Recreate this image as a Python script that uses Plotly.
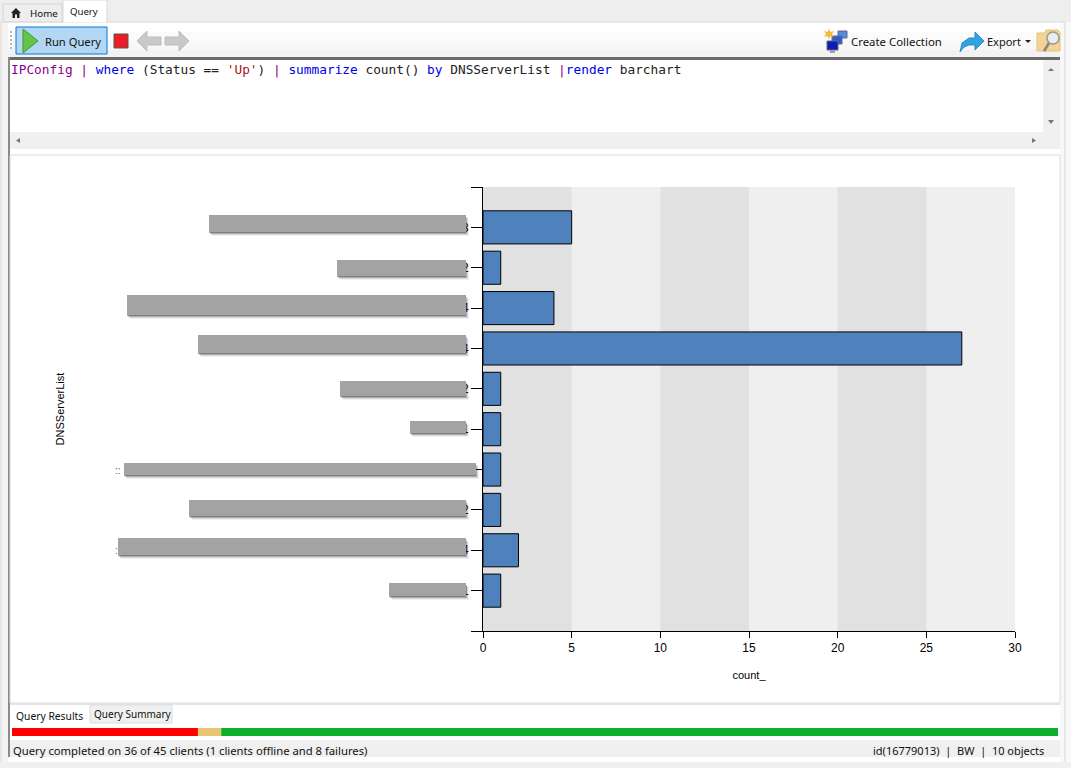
import plotly.graph_objects as go

# ---- chart data ----
dns_labels = ["3", "2", "4", "4", "2", "1", "", "2", "4", "1"]   # visible ends of the masked labels
dns_counts = [5, 1, 4, 27, 1, 1, 1, 1, 2, 1]
x_ticks = [0, 5, 10, 15, 20, 25, 30]
dark_bands = [(0, 5), (10, 15), (20, 25)]
client_counts = [8, 1, 36]          # failures, offline, completed
client_colors = ["#ff0000", "#e8c574", "#0db02b"]

# masked label boxes: left, top, right, bottom
mask_boxes = [
    (209, 215, 466, 232), (337, 260, 466, 276), (127, 295, 466, 315),
    (198, 335, 466, 353), (340, 381, 466, 396), (410, 421, 466, 433),
    (124, 463, 476, 475), (189, 500, 466, 516), (118, 538, 466, 555),
    (389, 583, 466, 596),
]

# ---- plot geometry ----
L, R, T, B = 483, 1015, 187, 631
W, H = 1071, 768
def fx(px): return (px - L) / (R - L)
def fy(py): return (B - py) / (B - T)

shapes, notes = [], []

def rect(x0, y0, x1, y1, fill=None, line=None, layer="below", lw=1):
    shapes.append(dict(type="rect", xref="paper", yref="paper",
                       x0=fx(x0), x1=fx(x1), y0=fy(y0), y1=fy(y1),
                       fillcolor=fill if fill else "rgba(0,0,0,0)",
                       line=dict(color=line if line else "rgba(0,0,0,0)", width=lw if line else 0),
                       layer=layer))

def poly(points, fill, line=None, layer="below"):
    d = "M" + " L".join(f"{fx(x):.5f} {fy(y):.5f}" for x, y in points) + " Z"
    shapes.append(dict(type="path", xref="paper", yref="paper", path=d, fillcolor=fill,
                       line=dict(color=line if line else "rgba(0,0,0,0)", width=1 if line else 0),
                       layer=layer))

def text(x, y, s, size=12, color="#111111", family="Noto Sans", anchor="left"):
    # annotations carry about 2px of padding
    dx = -2 if anchor == "left" else 2
    notes.append(dict(xref="paper", yref="paper", x=fx(x + dx), y=fy(y), text=s, showarrow=False,
                      xanchor=anchor, yanchor="middle", align=anchor,
                      font=dict(size=size, color=color, family=family)))

# ---- window chrome ----
rect(0, 0, W, 22, "#eeeeee")
rect(0, 22, 8, H, "#f4f4f4")
rect(1060, 22, W, H, "#f8f8f8")
rect(1, 22, 1065, 765, None, "#d9d9d9")
rect(0, 762, W, H, "#f0f0f0")
# tabs
rect(3, 4, 62, 22, "#eeeeee", "#d5d5d5")
rect(63, 0, 107, 23, "#ffffff", "#d9d9d9")
poly([(11, 13), (16, 8), (21, 13), (19.5, 13), (19.5, 18), (17, 18), (17, 14.5), (15, 14.5), (15, 18), (12.5, 18), (12.5, 13)], "#222222")
text(30, 13, "Home", 9.8)
text(70, 11, "Query", 9.6)
# toolbar
for i, c in enumerate(["#ffffff", "#fbfbfb", "#f7f7f7", "#f2f2f2"]):
    rect(8, 23 + i * 9, 1060, 32 + i * 9, c)
for yy in (31, 35, 39, 43, 47):
    rect(10, yy, 12, yy + 2, "#b8b8b8")
rect(16, 27, 107, 54, "#b3d7f3", "#0078d7")
poly([(23, 29), (38, 41), (23, 53)], "#62c54a", "#3c9a32")
text(45, 41, "Run Query", 11.2)
rect(114, 34, 128, 48, "#ee1c25", "#555555")
poly([(137, 41), (147, 31), (147, 37), (161, 37), (161, 45), (147, 45), (147, 51)], "#c9c9c9", "#bdbdbd")
poly([(189, 41), (179, 31), (179, 37), (165, 37), (165, 45), (179, 45), (179, 51)], "#c9c9c9", "#bdbdbd")
# create collection icon
rect(838, 31, 847, 38, "#4f8fe0", "#66668a")
rect(832, 36, 842, 44, "#2a5fd0", "#66668a")
rect(827, 41, 838, 50, "#0b1fb0", "#66668a")
rect(830, 50, 835, 53, "#a0a0a0")
poly([(829, 29), (830.5, 32), (834, 31), (832, 34), (834, 37), (830.5, 36), (829, 39), (827.5, 36), (824, 37), (826, 34), (824, 31), (827.5, 32)], "#f5b93b")
text(851, 41, "Create Collection", 11.4)
# export arrow
poly([(960, 52), (962, 43), (969, 38), (975, 38), (975, 32), (984, 41), (975, 50), (975, 45), (969, 45), (964, 47)], "#2fa4e0", "#2a8fc9")
text(987, 41, "Export", 11)
poly([(1025, 40), (1031, 40), (1028, 43)], "#222222")
# find icon
poly([(1037, 33), (1045, 33), (1046, 30), (1058, 30), (1060, 33), (1060, 51), (1037, 51)], "#f3d495", "#e2c27e")
shapes.append(dict(type="circle", xref="paper", yref="paper", x0=fx(1047), x1=fx(1059), y0=fy(32), y1=fy(44),
                   fillcolor="#e6eef0", line=dict(color="#9a9a8a", width=1.5), layer="below"))
poly([(1048, 42), (1050, 44), (1045, 52), (1043, 50)], "#8a8a80")
# editor
rect(8, 57, 1060, 60, "#6a6a6a")
rect(8, 57, 10, 757, "#8a8a8a")
rect(10, 60, 1043, 132, "#ffffff")
rect(1043, 60, 1060, 149, "#f0f0f0")
rect(10, 132, 1060, 149, "#f0f0f0")
poly([(1048, 71), (1054, 71), (1051, 68)], "#777777")
poly([(1048, 120), (1054, 120), (1051, 124)], "#777777")
poly([(20, 138), (20, 143), (16, 140.5)], "#777777")
poly([(1032, 138), (1032, 143), (1036, 140.5)], "#777777")
P = "#8b008b"; K = "#0000e6"; G = "#222222"; RD = "#a31515"
query = (f'<span style="color:{P}">IPConfig | </span><span style="color:{K}">where</span>'
         f'<span style="color:{G}"> (Status == </span><span style="color:{RD}">\'Up\'</span>'
         f'<span style="color:{G}">) </span><span style="color:{P}">| </span>'
         f'<span style="color:{K}">summarize</span><span style="color:{G}"> count() </span>'
         f'<span style="color:{K}">by</span><span style="color:{G}"> DNSServerList </span>'
         f'<span style="color:{P}">|</span><span style="color:{K}">render</span>'
         f'<span style="color:{G}"> barchart</span>')
text(11, 70, query, 12.8, family="DejaVu Sans Mono")
# chart panel border
rect(10, 155, 1060, 703, None, "#dcdcdc")
# bottom tabs
rect(10, 703, 1060, 705, "#e4e4e4")
rect(90, 705, 172, 723, "#f0f0f0", "#dddddd")
text(16, 716, "Query Results", 10.3)
text(94, 714, "Query Summary", 10)
# progress bar built from the client counts
x_start, x_span, total, run = 12, 1046, sum(client_counts), 0
for n, c in zip(client_counts, client_colors):
    rect(x_start + x_span * run / total, 728, x_start + x_span * (run + n) / total, 736, c)
    run += n
# status bar
rect(10, 740, 1060, 757, "#f0f0f0")
text(13, 750, "Query completed on 36 of 45 clients (1 clients offline and 8 failures)", 11.25)
text(1044, 750, "id(16779013)&nbsp;&nbsp;|&nbsp;&nbsp;BW&nbsp;&nbsp;|&nbsp;&nbsp;10 objects", 11, anchor="right")

# ---- alternating background bands ----
for a, b in dark_bands:
    shapes.append(dict(type="rect", xref="x", yref="paper", x0=a, x1=b, y0=0, y1=1,
                       fillcolor="#e1e1e1", line=dict(width=0), layer="below"))

# ---- masks over the category labels ----
for x0, y0, x1, y1 in mask_boxes:
    for off, alpha in ((4, 0.07), (3, 0.14), (2, 0.28), (1, 0.40)):
        rect(x0 + off - 1, y0 + off, x1 + off - 1, y1 + off, f"rgba(60,60,60,{alpha})", layer="above")
    rect(x0, y0, x1, y1, "#a3a3a3", layer="above")
text(115, 470, "::", 10, color="#555555", family="Liberation Sans")
text(115, 550, ":", 10, color="#8a6a3a", family="Liberation Sans")

# ---- chart ----
positions = list(range(len(dns_labels)))
fig = go.Figure(go.Bar(
    x=dns_counts, y=positions, orientation="h",
    marker=dict(color="#4f81bd", line=dict(color="#000000", width=1)),
))
fig.update_layout(
    width=W, height=H, autosize=False,
    margin=dict(l=L, r=W - R, t=T, b=H - B, pad=0),
    paper_bgcolor="#ffffff", plot_bgcolor="#efefef",
    bargap=0.18, showlegend=False,
    font=dict(family="Liberation Sans", color="#000000", size=12),
    shapes=shapes, annotations=notes,
    xaxis=dict(range=[0, 30], tickvals=x_ticks, ticks="outside", ticklen=6, tickcolor="#000000",
               showline=True, linecolor="#000000", linewidth=1, showgrid=False, zeroline=False,
               tickfont=dict(size=12, family="Liberation Sans"),
               title=dict(text="count_", font=dict(size=11, family="Liberation Sans"), standoff=16)),
    yaxis=dict(range=[len(dns_labels), -1],
               tickvals=[-1] + positions + [len(dns_labels)], ticktext=[""] + dns_labels + [""],
               ticks="outside", ticklen=11, tickcolor="#000000",
               showline=True, linecolor="#000000", linewidth=1, showgrid=False, zeroline=False,
               tickfont=dict(size=12, family="Liberation Sans"),
               title=dict(text="DNSServerList", font=dict(size=11, family="Liberation Sans"), standoff=395)),
)
fig.write_html("out.html", config=dict(displayModeBar=False),
               post_script="document.body.style.margin='0';document.body.style.overflow='hidden';")
